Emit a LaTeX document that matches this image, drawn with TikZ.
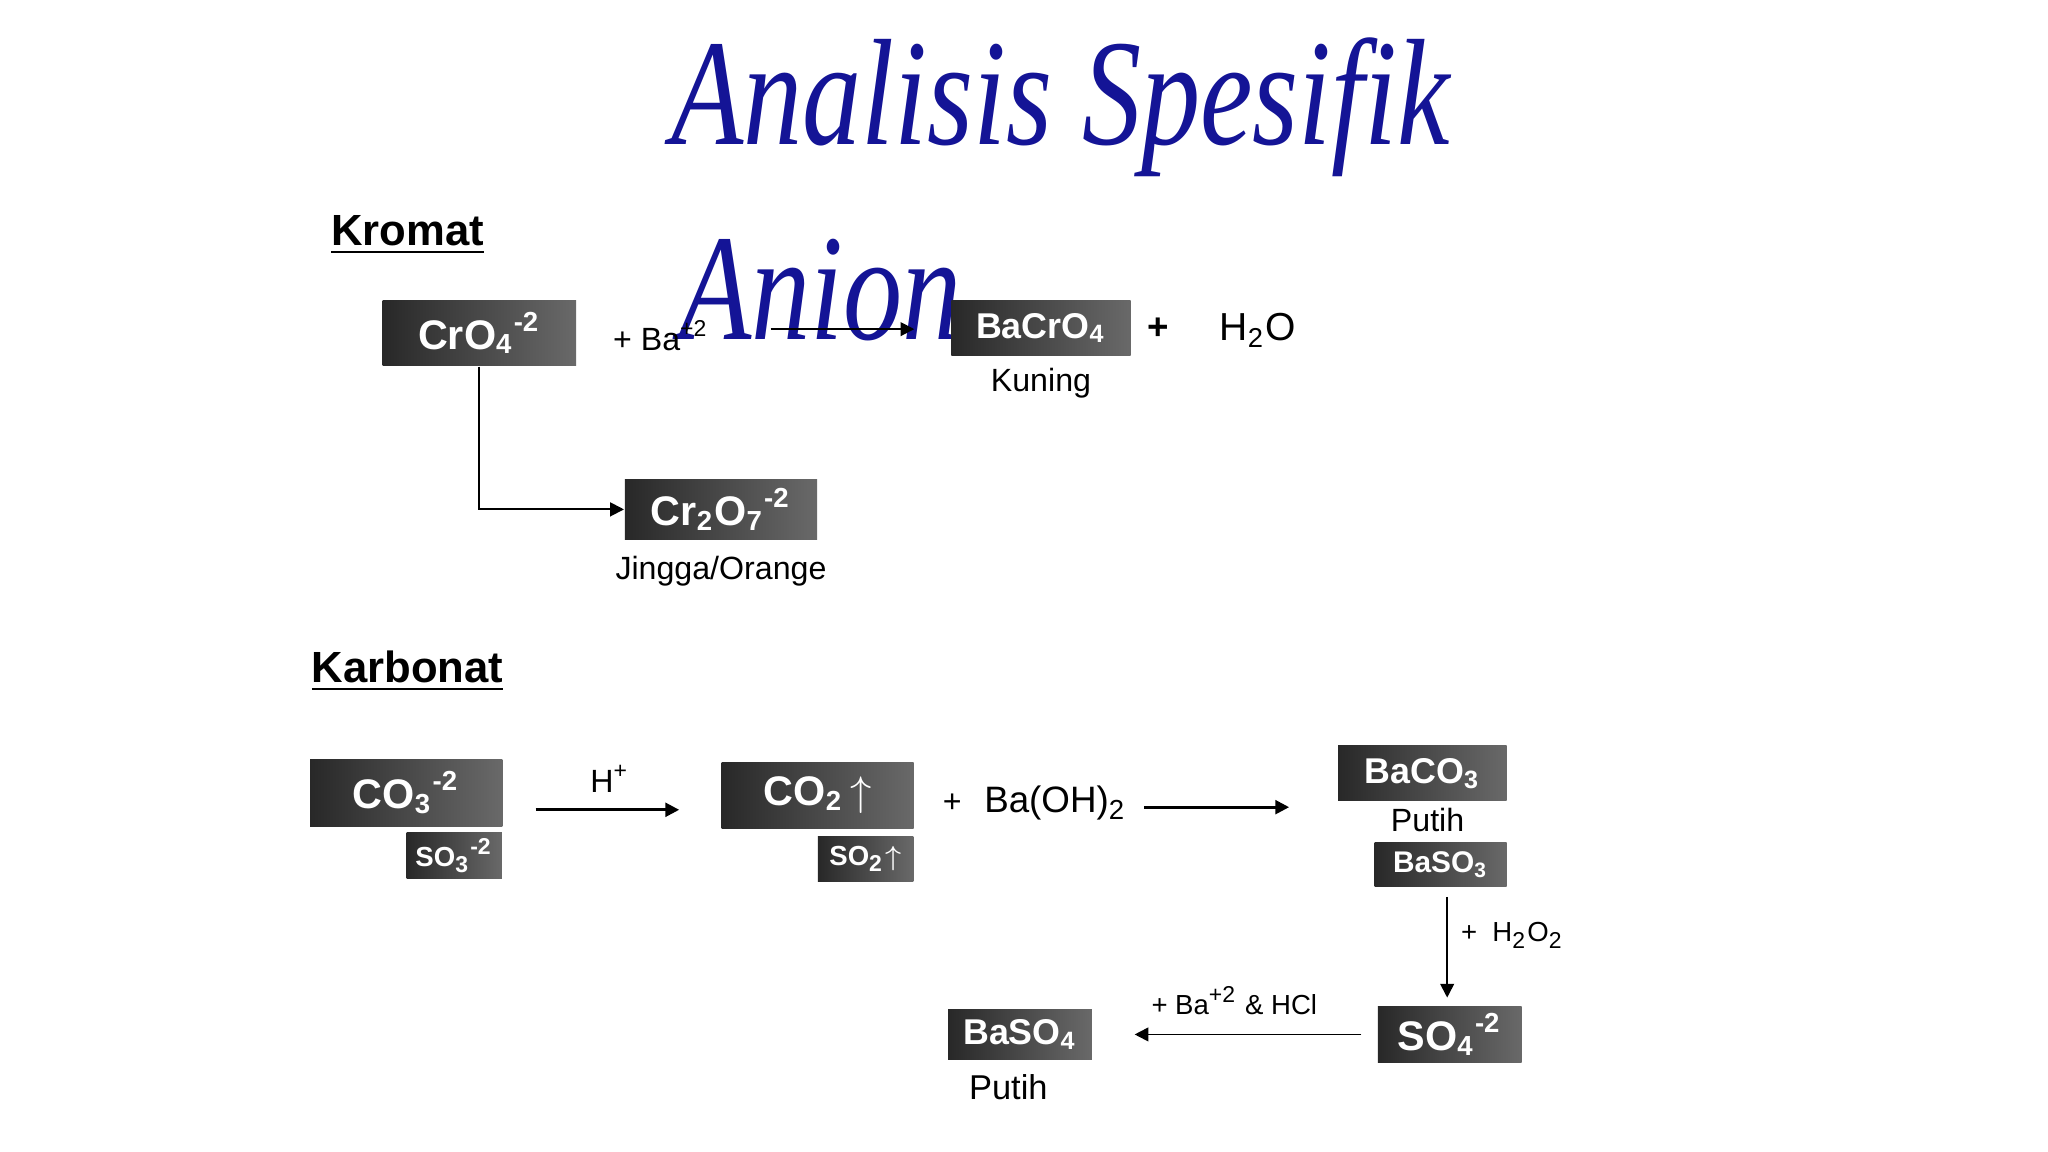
\documentclass[tikz,border=0pt]{standalone}
\usepackage{fontspec}
\setmainfont{Liberation Sans}
\newfontfamily\titlefont{Liberation Serif}
\usetikzlibrary{arrows.meta,positioning,calc}
\definecolor{titleblue}{RGB}{20,20,150}
\definecolor{boxdark}{RGB}{40,40,40}
\definecolor{boxlight}{RGB}{105,105,105}
\newcommand{\lo}[1]{\textsubscript{#1}}
\newcommand{\hi}[1]{\textsuperscript{#1}}

\begin{document}
\begin{tikzpicture}[x=0.01cm, y=-0.01cm,
    ion/.style={draw=none, left color=boxdark, right color=boxlight, text=white, font=\bfseries\fontsize{9}{11}\selectfont, inner sep=0pt},
    subion/.style={ion, font=\bfseries\fontsize{6}{7}\selectfont},
    note/.style={font=\fontsize{7}{8}\selectfont},
    heading/.style={font=\bfseries\fontsize{9.5}{11}\selectfont},
    headline/.style={text=titleblue, font=\titlefont\itshape\fontsize{33}{36}\selectfont, xscale=0.78},
    reac/.style={-{Triangle[length=3pt,width=3pt]}, semithick}]
  \useasboundingbox (0,0) rectangle (1568,882);

  % title
  \node[headline] (title) at (812,82) {Analisis Spesifik};
  \node[headline] (anion) at (628,222) {Anion};

  % Kromat
  \node[heading] (kromat) at (312,180) {\underline{Kromat}};
  \node[ion, minimum width=1.48cm, minimum height=0.5cm] (cro4) at (367,255) {CrO\lo{4}\hi{-2}};
  \node[note] (ba) at (506,257) {+ Ba\hi{+2}};
  \coordinate (a1) at (590,252);
  \coordinate (a2) at (700,252);
  \draw[reac, thin] (a1) -- (a2);
  \node[ion, minimum width=1.37cm, minimum height=0.42cm, font=\bfseries\fontsize{7.8}{9}\selectfont] (bacro4) at (797,251) {BaCrO\lo{4}};
  \node[note, below=-1pt of bacro4] (kuning) {Kuning};
  \node[note, font=\bfseries\fontsize{8}{10}\selectfont] (plus1) at (887,252) {+};
  \node[note, font=\fontsize{8.5}{10}\selectfont] (h2o) at (963,253) {H\lo{2}O};
  \node[ion, minimum width=1.47cm, minimum height=0.46cm] (cr2o7) at (552,390) {Cr\lo{2}O\lo{7}\hi{-2}};
  \node[note, below=0pt of cr2o7] (jingga) {Jingga/Orange};
  \draw[reac, thin] (cro4.south) |- (cr2o7.west);

  % Karbonat
  \node[heading] (karbonat) at (312,514) {\underline{Karbonat}};
  \node[ion, minimum width=1.47cm, minimum height=0.51cm] (co3) at (311,607) {CO\lo{3}\hi{-2}};
  \node[subion, minimum width=0.73cm, minimum height=0.35cm, anchor=north east] (so3) at (385,637) {SO\lo{3}\hi{-2}};
  \node[note] (hplus) at (467,596) {H\hi{+}};
  \coordinate (b1) at (410,620);
  \coordinate (b2) at (520,620);
  \draw[reac] (b1) -- (b2);
  \node[ion, minimum width=1.47cm, minimum height=0.5cm] (co2) at (626,609) {CO\lo{2}\,$\uparrow$};
  \node[subion, minimum width=0.73cm, minimum height=0.34cm, anchor=north east] (so2) at (700,640) {SO\lo{2}$\uparrow$};
  \node[note] (plus2) at (729,615) {+};
  \node[note, font=\fontsize{8}{10}\selectfont] (baoh) at (808,615) {Ba(OH)\lo{2}};
  \coordinate (c1) at (876,618);
  \coordinate (c2) at (987,618);
  \draw[reac] (c1) -- (c2);
  \node[ion, minimum width=1.29cm, minimum height=0.42cm, font=\bfseries\fontsize{7.8}{9}\selectfont] (baco3) at (1089,592) {BaCO\lo{3}};
  \node[note] (putih1) at (1093,628) {Putih};
  \node[subion, minimum width=1.01cm, minimum height=0.34cm, font=\bfseries\fontsize{6.5}{8}\selectfont] (baso3) at (1103,662) {BaSO\lo{3}};
  \node[ion, minimum width=1.1cm, minimum height=0.43cm] (so4) at (1110,792) {SO\lo{4}\hi{-2}};
  \draw[reac, thin] ($(baso3.south)+(5,7)$) -- ($(so4.north)+(-2,-6)$);
  \node[note, font=\fontsize{6}{7}\selectfont] (h2o2) at (1158,716) {+\ \ H\lo{2}O\lo{2}};
  \node[ion, minimum width=1.1cm, minimum height=0.38cm, font=\bfseries\fontsize{7.8}{9}\selectfont] (baso4) at (781,792) {BaSO\lo{4}};
  \node[note, font=\fontsize{7.5}{9}\selectfont] (putih2) at (772,832) {Putih};
  \draw[reac, thin] ($(so4.west)+(-12,0)$) -- ($(baso4.east)+(32,0)$);
  \node[note, font=\fontsize{6}{7}\selectfont] (bahcl) at (945,766) {+ Ba\hi{+2} \& HCl};
\end{tikzpicture}
\end{document}
